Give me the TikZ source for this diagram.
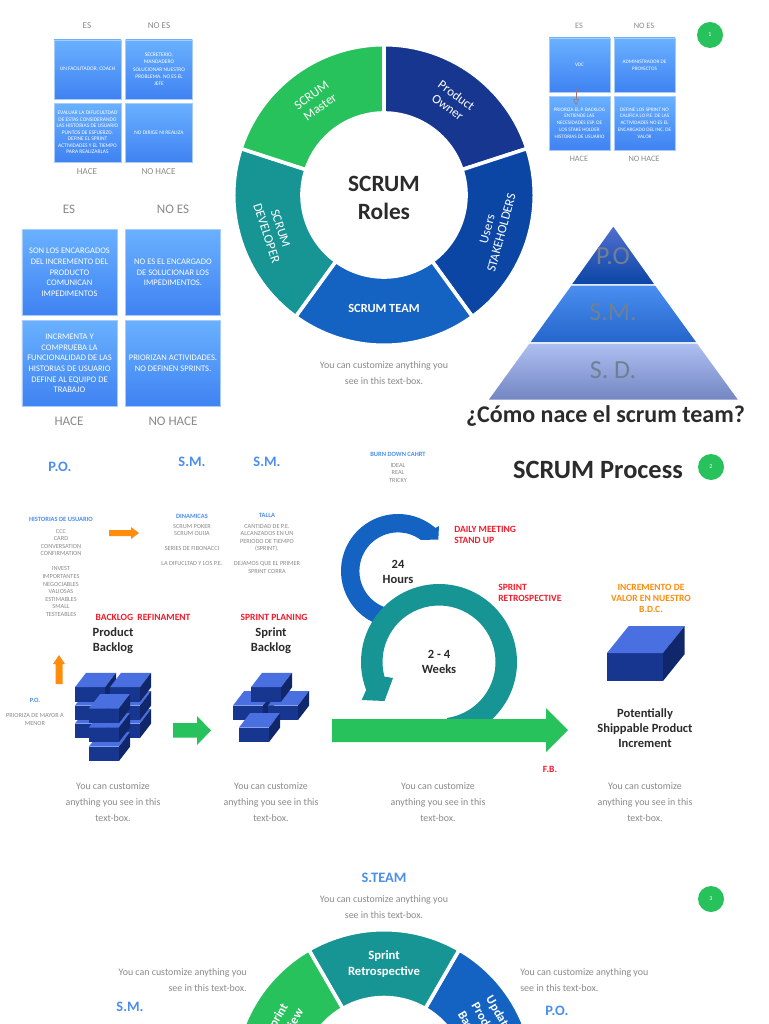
\documentclass[tikz,border=0pt]{standalone}
\usepackage{fontspec}
\setmainfont{Carlito}
\usetikzlibrary{arrows.meta}
\definecolor{scrumgreen}{HTML}{27C25C}
\definecolor{scrumteal}{HTML}{179494}
\definecolor{scrumnavy}{HTML}{17368F}
\definecolor{scrumroyal}{HTML}{0B46A5}
\definecolor{scrumblue}{HTML}{1462C2}
\definecolor{boxtop}{HTML}{69B1FF}
\definecolor{boxbot}{HTML}{3F82F2}
\definecolor{boxline}{HTML}{A8CBF8}
\definecolor{labelgray}{HTML}{8A8A8A}
\definecolor{refblue}{HTML}{4A8EF0}
\definecolor{refred}{HTML}{F51B2B}
\definecolor{reforange}{HTML}{FF8C0C}
\definecolor{darktext}{HTML}{2B2B2B}
\definecolor{pyrtext}{HTML}{6F8094}
\definecolor{blocktop}{HTML}{4A6FE0}
\definecolor{blockside}{HTML}{10286B}
\tikzset{
	factbox/.style={draw=boxline, line width=0.4pt, top color=boxtop, bottom color=boxbot, text=white, align=center, inner sep=0pt},
	boxsmall/.style={factbox, minimum width=50pt, minimum height=44.25pt, font=\fontsize{4.1}{5.5}\selectfont},
	boxright/.style={factbox, minimum width=45.75pt, minimum height=40.5pt, font=\fontsize{3.9}{5.05}\selectfont},
	boxbig/.style={factbox, minimum width=71.5pt, minimum height=64.5pt, font=\fontsize{6.4}{8}\selectfont},
	headsmall/.style={text=labelgray, font=\fontsize{6.8}{8}\selectfont},
	headright/.style={text=labelgray, font=\fontsize{6.2}{8}\selectfont},
	headbig/.style={text=labelgray, font=\fontsize{9.8}{12}\selectfont},
	blurb/.style={text=labelgray, align=center, inner sep=0pt, font=\fontsize{7.45}{12}\selectfont},
	tinygray/.style={text=labelgray, align=center, font=\fontsize{4.7}{5.65}\selectfont},
	tinyblue/.style={text=refblue, font=\fontsize{4.85}{5.6}\bfseries\selectfont},
	roleblue/.style={text=refblue, font=\fontsize{10.8}{12}\bfseries\selectfont},
	redtag/.style={text=refred, align=left, inner sep=0pt, font=\fontsize{7.15}{8.3}\bfseries\selectfont},
	darkbold/.style={text=darktext, align=center, font=\fontsize{9.4}{11.2}\bfseries\selectfont},
	seglabel/.style={text=white, align=center, font=\fontsize{9.3}{11}\bfseries\selectfont},
	seglight/.style={text=white, align=center, font=\fontsize{9.7}{11}\selectfont},
	segevent/.style={text=white, align=center, font=\fontsize{9.5}{12}\bfseries\selectfont},
	pyrlabel/.style={text=pyrtext, font=\fontsize{19.5}{22}\selectfont},
	pagedot/.style={circle, fill=scrumgreen, text=white, minimum size=19.5pt, inner sep=0pt, font=\fontsize{4.5}{5}\selectfont},
	ringgap/.style={draw=white, line width=2.7pt},
}
\def\ringseg[#1](#2)(#3:#4:#5:#6){\draw[ringgap,fill=#1,shift={(#2)}] (#3:#5) arc (#3:#4:#5) -- (#4:#6) arc (#4:#3:#6) -- cycle;}
\def\cubebox(#1,#2)(#3,#4)(#5,#6){
	\fill[scrumnavy] (#1,#2) rectangle ++(#3,#4);
	\fill[blocktop] (#1,#2) ++(0,#4) -- ++(#3,0) -- ++(#5,#6) -- ++(-#3,0) -- cycle;
	\fill[blockside] (#1,#2) ++(#3,0) -- ++(#5,#6) -- ++(0,#4) -- ++(-#5,-#6) -- cycle;
}
\def\blockbox(#1,#2){\cubebox(#1,#2)(30,14.5)(11,14.3)}

\begin{document}
\begin{tikzpicture}[x=0.75pt,y=0.75pt]
			%%%%% START %%%%%
			\useasboundingbox (0,0) rectangle (768,-1024);
			\clip (0,0) rectangle (768,-1024);
			\fill[white] (0,0) rectangle (768,-1024);
			
			\node[headsmall] (esA) at (87,-26) {ES};
			\node[headsmall] (noesA) at (159,-26) {NO ES};
			\node[boxsmall] (esboxA) at (87.5,-69.5) {UN FACILITADOR, COACH};
			\node[boxsmall] (noesboxA) at (159,-69.5) {SECRETERIO,\\MANDADERO\\SOLUCIONAR NUESTRO\\PROBLEMA. NO ES EL\\JEFE};
			\node[boxsmall, font=\fontsize{4.1}{4.9}\selectfont] (haceboxA) at (87.5,-132.5) {EVALUAR LA DIFUCULTDAD\\DE ESTAS CONSIDERANDO\\LAS HISTORIAS DE USUARIO\\PUNTOS DE ESFUERZO.\\DEFINE EL SPRINT\\ACTIVIDADES Y EL TIEMPO\\PARA REALIZARLAS};
			\node[boxsmall] (nohaceboxA) at (159,-132.5) {NO DIRIGE NI REALIZA};
			\node[headsmall] (haceA) at (87,-172) {HACE};
			\node[headsmall] (nohaceA) at (158.5,-172) {NO HACE};
			
			\node[headbig] (esB) at (69,-209) {ES};
			\node[headbig] (noesB) at (173,-209) {NO ES};
			\node[boxbig] (esboxB) at (69.5,-272.5) {SON LOS ENCARGADOS\\DEL INCREMENTO DEL\\PRODUCTO\\COMUNICAN\\IMPEDIMENTOS};
			\node[boxbig] (noesboxB) at (173,-272.5) {NO ES EL ENCARGADO\\DE SOLUCIONAR LOS\\IMPEDIMENTOS.};
			\node[boxbig] (haceboxB) at (69.5,-363.5) {INCRMENTA Y\\COMPRUEBA LA\\FUNCIONALIDAD DE LAS\\HISTORIAS DE USUARIO\\DEFINE AL EQUIPO DE\\TRABAJO};
			\node[boxbig] (nohaceboxB) at (173,-363.5) {PRIORIZAN ACTIVIDADES.\\NO DEFINEN SPRINTS.};
			\node[headbig] (haceB) at (69,-421) {HACE};
			\node[headbig] (nohaceB) at (173,-421) {NO HACE};
			
			\node[headright] (esC) at (579,-26) {ES};
			\node[headright] (noesC) at (644,-26) {NO ES};
			\node[boxright] (esboxC) at (579.5,-65) {VDC};
			\node[boxright] (noesboxC) at (644.5,-65) {ADMINISTRADOR DE\\PROYECTOS};
			\node[boxright] (haceboxC) at (579.5,-123) {PRIORIZA EL P. BACKLOG\\ENTIENDE LAS\\NECESIDADES ESP. DE\\LOS STAKE HOLDER\\HISTORIAS DE USUARIO};
			\node[boxright] (nohaceboxC) at (644.5,-123) {DEFINE LOS SPRINT NO\\CALIFICA LO P.E. DE LAS\\ACTIVIDADES NO ES EL\\ENCARGADO DEL INC. DE\\VALOR};
			\node[headright] (haceC) at (579,-159) {HACE};
			\node[headright] (nohaceC) at (644,-159) {NO HACE};
			\coordinate (tickA) at (576,-89);
			\coordinate (tickB) at (576,-105);
			\draw[color=red!35!black!55, line width=0.4pt, -{Triangle[open,length=4.5pt,width=4.5pt]}] (tickA) -- (tickB);
			\node[pagedot] (dotA) at (710,-35) {1};
			
			\coordinate (rolesC) at (384,-195);
			\ringseg[scrumnavy](rolesC)(18:90:150.3:82)
			\ringseg[scrumroyal](rolesC)(-54:18:150.3:82)
			\ringseg[scrumblue](rolesC)(-126:-54:150.3:82)
			\ringseg[scrumteal](rolesC)(162:234:150.3:82)
			\ringseg[scrumgreen](rolesC)(90:162:150.3:82)
			\node[text=darktext, align=center, font=\fontsize{17.5}{21.5}\bfseries\selectfont] (rolesT) at (384,-198) {SCRUM\\Roles};
			\node[seglight, rotate=-36] (ownerT) at ([shift={(54:116)}]rolesC) {Product\\Owner};
			\node[seglight, rotate=75] (usersT) at ([shift={(-18:116)}]rolesC) {Users\\STAKEHOLDERS};
			\node[seglabel] (teamT) at (384,-308) {SCRUM TEAM};
			\node[seglight, rotate=-72] (devT) at ([shift={(198:116)}]rolesC) {SCRUM\\DEVELOPER};
			\node[seglight, rotate=36] (masterT) at ([shift={(126:116)}]rolesC) {SCRUM\\Master};
			\node[blurb] (rolesB) at (384,-373.5) {You can customize anything you\\see in this text-box.};
			
			\shade[top color=black!5!blue!30!scrumroyal!70!white, bottom color=scrumroyal] (613.3,-226.7) -- (654,-284) -- (572.3,-284) -- cycle;
			\shade[top color=refblue, bottom color=scrumblue!70!blocktop] (571.5,-285.5) -- (655,-285.5) -- (696,-342) -- (530.7,-342) -- cycle;
			\shade[top color=blocktop!45!white, bottom color=blocktop!75!black!70!white] (529.5,-343.5) -- (697,-343.5) -- (737.7,-399.5) -- (489,-399.5) -- cycle;
			\node[pyrlabel] (poP) at (613,-256) {P.O};
			\node[pyrlabel] (smP) at (613,-312) {S.M.};
			\node[pyrlabel] (sdP) at (613,-370) {S. D.};
			\node[text=darktext, font=\fontsize{18}{20}\bfseries\selectfont] (nace) at (605.5,-416) {¿Cómo nace el scrum team?};
			
			\node[roleblue] (poA) at (60,-467) {P.O.};
			\node[roleblue] (smA) at (192,-462) {S.M.};
			\node[roleblue] (smB) at (267,-462) {S.M.};
			\node[tinyblue] (burnT) at (398,-454) {BURN DOWN CAHRT};
			\node[tinygray, anchor=north] (burnL) at (398,-458.5) {IDEAL\\REAL\\TRICKY};
			\node[text=darktext, font=\fontsize{19.8}{22}\bfseries\selectfont] (processT) at (598,-470) {SCRUM Process};
			\node[pagedot] (dotB) at (711,-467) {2};
			
			\node[tinyblue] (storyT) at (61,-519) {HISTORIAS DE USUARIO};
			\node[tinygray, anchor=north] (storyL) at (61,-524.5) {CCC\\CARD\\CONVERSATION\\CONFIRMATION\\[5.65pt]INVEST\\IMPORTANTES\\NEGOCIABLES\\VALIOSAS\\ESTIMABLES\\SMALL\\TESTEABLES};
			\fill[color=reforange] (109,-530) -- (131,-530) -- (131,-527) -- (139,-533) -- (131,-539) -- (131,-536) -- (109,-536) -- cycle;
			\node[tinyblue] (dynT) at (192,-516) {DINAMICAS};
			\node[tinygray, anchor=north] (dynL) at (192,-519.5) {SCRUM POKER\\SCRUM OUIJA\\[5.65pt]SERIES DE FIBONACCI\\[5pt]LA DIFUCLTAD Y LOS P.E.};
			\node[tinyblue] (sizeT) at (267,-515) {TALLA};
			\node[tinygray, anchor=north] (sizeL) at (267,-519.5) {CANTIDAD DE P.E.\\ALCANZADOS EN UN\\PERIODO DE TIEMPO\\(SPRINT).\\[5.65pt]DEJAMOS QUE EL PRIMER\\SPRINT CORRA};
			
			\node[redtag] (refineT) at (143,-617) {BACKLOG\ \ REFINAMENT};
			\node[redtag] (planT) at (274,-617) {SPRINT PLANING};
			\node[darkbold] (pbT) at (113,-640.5) {Product\\Backlog};
			\node[darkbold] (sbT) at (271,-640.5) {Sprint\\Backlog};
			
			\fill[color=reforange] (55.5,-684) -- (55.5,-664) -- (53,-664) -- (59,-655) -- (65,-664) -- (62.5,-664) -- (62.5,-684) -- cycle;
			\node[tinyblue] (poB) at (35,-700) {P.O.};
			\node[tinygray] (prioL) at (35,-719.5) {PRIORIZA DE MAYOR A\\MENOR};
			
			\blockbox(75,-738)
			\blockbox(75,-720)
			\blockbox(75,-701.7)
			\blockbox(110,-738)
			\blockbox(110,-720)
			\blockbox(110,-701.7)
			\blockbox(89,-761)
			\blockbox(89,-742)
			\blockbox(89,-723)
			
			\fill[color=scrumgreen] (173,-723) -- (197,-723) -- (197,-716) -- (211,-730.5) -- (197,-745) -- (197,-737.5) -- (173,-737.5) -- cycle;
			
			\blockbox(233,-720)
			\blockbox(268,-720)
			\blockbox(251,-701.7)
			\blockbox(239,-742)
			
			\fill[color=scrumblue] ([shift={(250:57)}]398,-571) arc (250:49:57) -- (439,-526) -- (438.3,-539.5) -- (421,-540) -- ([shift={(53:38.6)}]398,-571) arc (53:250:38.6) -- cycle;
			\fill[color=scrumteal] ([shift={(-82:78)}]439,-662) arc (-82:201:78) -- (361.7,-700) -- (384.5,-701) -- (393,-678) -- ([shift={(195:56.5)}]439,-662) arc (195:-82:56.5) -- cycle;
			\fill[color=scrumgreen] (332,-719) -- (546,-719) -- (546,-708) -- (568,-730) -- (546,-752) -- (546,-742) -- (332,-742) -- cycle;
			
			\node[darkbold] (hoursT) at (398,-571.5) {24\\Hours};
			\node[darkbold] (weeksT) at (439,-661.5) {2 - 4\\Weeks};
			\node[redtag, anchor=west] (dailyT) at (454,-534.5) {DAILY MEETING\\STAND UP};
			\node[redtag, anchor=west] (retroT) at (498,-592.5) {SPRINT\\RETROSPECTIVE};
			\node[redtag, text=reforange, align=center] (incT) at (651,-598.5) {INCREMENTO DE\\VALOR EN NUESTRO\\B.D.C.};
			\cubebox(607,-681)(56,28)(21.7,27)
			\node[darkbold] (shipT) at (645,-728) {Potentially\\Shippable Product\\Increment};
			\node[redtag] (fbT) at (550,-769) {F.B.};
			
			\node[blurb] (blurbA) at (113,-802) {You can customize\\anything you see in this\\text-box.};
			\node[blurb] (blurbB) at (271,-802) {You can customize\\anything you see in this\\text-box.};
			\node[blurb] (blurbC) at (438,-802) {You can customize\\anything you see in this\\text-box.};
			\node[blurb] (blurbD) at (645,-802) {You can customize\\anything you see in this\\text-box.};
			
			\node[roleblue] (steamT) at (384,-878) {S.TEAM};
			\node[blurb] (blurbE) at (384,-907) {You can customize anything you\\see in this text-box.};
			\node[pagedot] (dotC) at (711,-899) {3};
			\node[blurb, align=right, anchor=east] (blurbF) at (247,-980) {You can customize anything you\\see in this text-box.};
			\node[blurb, align=left, anchor=west] (blurbG) at (520,-980) {You can customize anything you\\see in this text-box.};
			\node[roleblue] (smC) at (130,-1007) {S.M.};
			\node[roleblue] (poC) at (557,-1011) {P.O.};
			
			\coordinate (eventC) at (384,-1080);
			\ringseg[scrumblue](eventC)(0:60:150.3:82.5)
			\ringseg[scrumteal](eventC)(60:120:150.3:82.5)
			\ringseg[scrumgreen](eventC)(120:180:150.3:82.5)
			\node[segevent] (retroS) at (384,-964) {Sprint\\Retrospective};
			\node[segevent, rotate=-60] (updateS) at ([shift={(30:116)}]eventC) {Update\\Product\\Backlog};
			\node[segevent, rotate=60] (reviewS) at ([shift={(150:116)}]eventC) {Sprint\\Review};
			
			%%%%% END %%%%%
		\end{tikzpicture}
\end{document}
